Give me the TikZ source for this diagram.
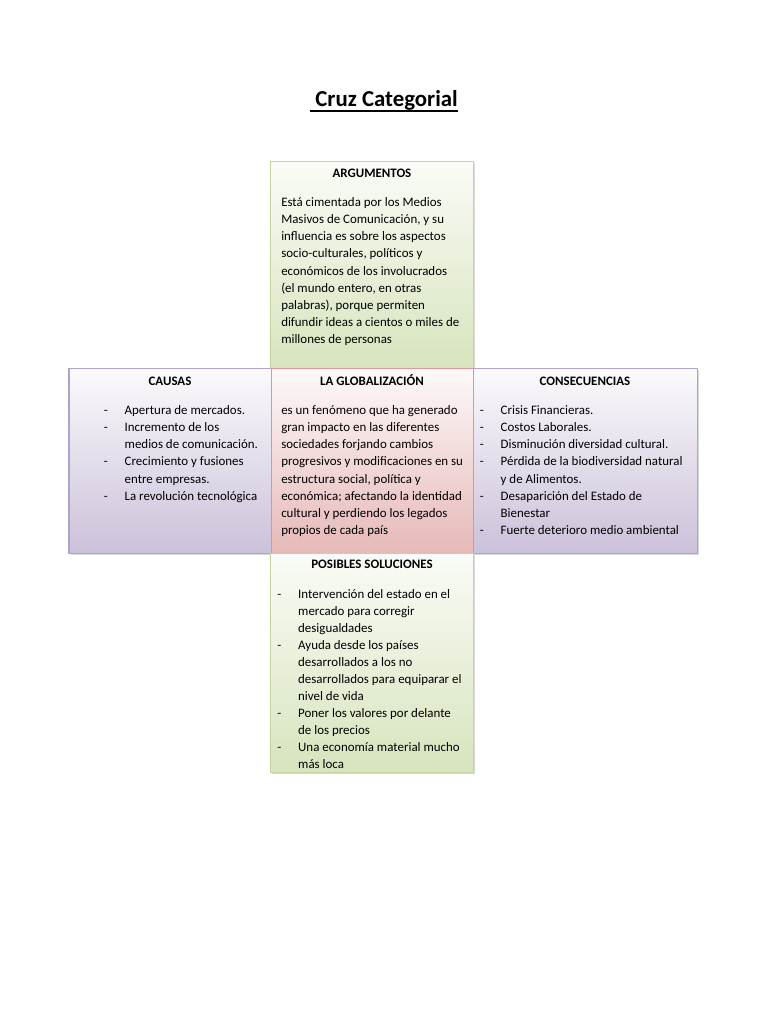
\documentclass[tikz,border=0pt]{standalone}
\usepackage{fontspec}
\setmainfont{Carlito}
\usetikzlibrary{shadows}
\definecolor{OliveLine}{RGB}{195,214,155}
\definecolor{OliveFill}{RGB}{215,228,189}
\definecolor{LilacLine}{RGB}{179,162,199}
\definecolor{LilacFill}{RGB}{204,193,218}
\definecolor{RoseLine}{RGB}{217,150,148}
\definecolor{RoseFill}{RGB}{230,185,184}
\newcommand\px{0.797pt}
\newcommand\bodyfont{\fontsize{10.3}{13.6}\selectfont}
\newcommand\tp{\rule{0pt}{10pt}}
\newcommand\dsh{\makebox[16.7pt][l]{-}}
\newcommand\ind{\hspace*{16.7pt}}
\tikzset{
  card/.style={rectangle,line width=0.8pt,inner sep=0pt,
    drop shadow={shadow xshift=1.2pt,shadow yshift=-1.2pt,opacity=.3}},
  olive/.style={card,draw=OliveLine,top color=OliveFill!12!white,bottom color=OliveFill},
  lilac/.style={card,draw=LilacLine,top color=LilacFill!8!white,bottom color=LilacFill},
  rose/.style={card,draw=RoseLine,top color=RoseFill!8!white,bottom color=RoseFill},
  head/.style={anchor=base,inner sep=0pt,font=\bodyfont\bfseries},
  body/.style={anchor=north west,inner sep=0pt,align=left,font=\bodyfont,yshift=10pt},
}

\begin{document}
\begin{tikzpicture}[x=0.797pt,y=-0.797pt]
\useasboundingbox (0,0) rectangle (768,1024);
\node[anchor=base,inner sep=0pt,font=\fontsize{18.2}{22}\selectfont\bfseries] (title) at (384,106) {\ Cruz Categorial};
\draw[line width=1.4pt] ([yshift=-4pt]title.base west) -- ([yshift=-4pt]title.base east);

\node[olive,minimum width=203*\px,minimum height=207*\px] (arg) at (371.5,264.5) {};
\node[lilac,minimum width=202*\px,minimum height=185*\px] (causas) at (170,460.5) {};
\node[rose,minimum width=202*\px,minimum height=185*\px] (glob) at (372,460.5) {};
\node[lilac,minimum width=224*\px,minimum height=185*\px] (consec) at (585,460.5) {};
\node[olive,minimum width=203*\px,minimum height=219*\px] (sol) at (371.5,662.5) {};

\node[head] (argT) at (372,177.5) {ARGUMENTOS};
\node[body] (argB) at (281,206.5) {\tp Está cimentada por los Medios\\
Masivos de Comunicación, y su\\
influencia es sobre los aspectos\\
socio-culturales, políticos y\\
económicos de los involucrados\\
(el mundo entero, en otras\\
palabras), porque permiten\\
difundir ideas a cientos o miles de\\
millones de personas};

\node[head] (causasT) at (170,385) {CAUSAS};
\node[body] (causasB) at (103.5,414.5) {\tp\dsh Apertura de mercados.\\
\dsh Incremento de los\\
\ind medios de comunicación.\\
\dsh Crecimiento y fusiones\\
\ind entre empresas.\\
\dsh La revolución tecnológica};

\node[head] (globT) at (372,385) {LA GLOBALIZACIÓN};
\node[body] (globB) at (281,414.5) {\tp es un fenómeno que ha generado\\
gran impacto en las diferentes\\
sociedades forjando cambios\\
progresivos y modificaciones en su\\
estructura social, política y\\
económica; afectando la identidad\\
cultural y perdiendo los legados\\
propios de cada país};

\node[head] (consecT) at (585,385) {CONSECUENCIAS};
\node[body] (consecB) at (479.5,414.5) {\tp\dsh Crisis Financieras.\\
\dsh Costos Laborales.\\
\dsh Disminución diversidad cultural.\\
\dsh Pérdida de la biodiversidad natural\\
\ind y de Alimentos.\\
\dsh Desaparición del Estado de\\
\ind Bienestar\\
\dsh Fuerte deterioro medio ambiental};

\node[head] (solT) at (372,568) {POSIBLES SOLUCIONES};
\node[body] (solB) at (277,598) {\tp\dsh Intervención del estado en el\\
\ind mercado para corregir\\
\ind desigualdades\\
\dsh Ayuda desde los países\\
\ind desarrollados a los no\\
\ind desarrollados para equiparar el\\
\ind nivel de vida\\
\dsh Poner los valores por delante\\
\ind de los precios\\
\dsh Una economía material mucho\\
\ind más loca};
\end{tikzpicture}
\end{document}
